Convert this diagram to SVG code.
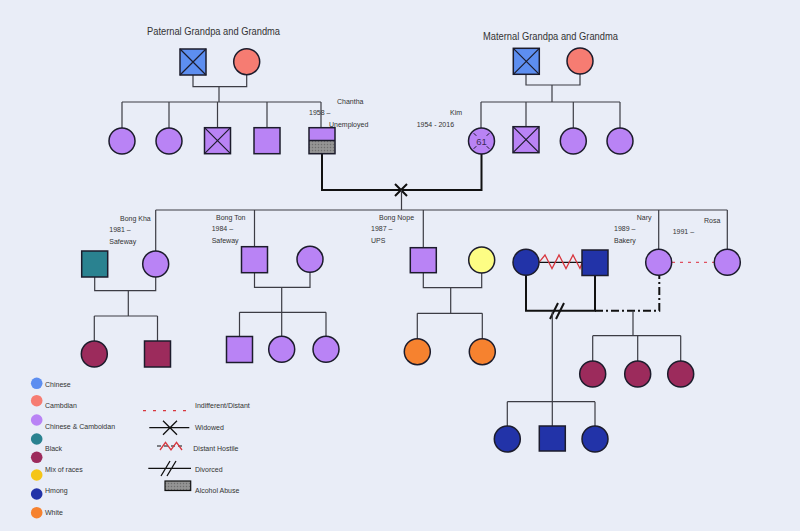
<svg xmlns="http://www.w3.org/2000/svg" width="800" height="531" viewBox="0 0 800 531">
<defs>
<style>
.bg{fill:#e9edf7}
.n{stroke:#1c1c2c;stroke-width:1.5}
.blue{fill:#5d8ef0}.salmon{fill:#f67c72}.lav{fill:#b983f5}.teal{fill:#2a8290}.maroon{fill:#9c2b5c}
.yellow{fill:#fdfd84}.hmong{fill:#2233a8}.orange{fill:#f6822f}.gold{fill:#f5c518}
.x{stroke:#1c1c2c;stroke-width:1.2}
.c{fill:none;stroke:#3c3c44;stroke-width:1.2}
.m{fill:none;stroke:#111;stroke-width:2}
.t{font-family:"Liberation Sans",Arial,sans-serif;font-size:7px;fill:#333}
.h{font-family:"Liberation Sans",Arial,sans-serif;font-size:10.5px;fill:#333}
.red{fill:none;stroke:#d8363e;stroke-width:1.3}
</style>
<pattern id="alc" width="3" height="3" patternUnits="userSpaceOnUse">
<rect width="3" height="3" fill="#8e8e8e"/>
<rect width="1" height="1" fill="#6e6e6e"/>
<rect x="1.5" y="1.5" width="1" height="1" fill="#a8a8a8"/>
</pattern>
</defs>
<rect class="bg" width="800" height="531"/>

<g id="titles">
<text class="h" x="147" y="35" textLength="133" lengthAdjust="spacingAndGlyphs">Paternal Grandpa and Grandma</text>
<text class="h" x="483" y="40" textLength="135" lengthAdjust="spacingAndGlyphs">Maternal Grandpa and Grandma</text>
</g>

<g id="connectors">
<path class="c" d="M193,75 V86.7 H246.7 V74.7 M219,86.7 V102 M122,102 H321 M122,102 V128 M169,102 V128 M217.5,102 V127.7 M267,102 V127.7 M321,102 V127.7"/>
<path class="c" d="M526,74.3 V85 H580 V74 M552,85 V102 M481,102 H620 M481,102 V128 M526,102 V126.7 M573.3,102 V128 M620,102 V128"/>
<path class="m" d="M322,153.3 V190 H481.5 V154"/>
<path class="m" d="M395,184 L407,196 M395,196 L407,184"/>
<path class="c" d="M401.5,190 V210 M155.7,210 H727.3 M155.7,210 V251 M254.5,210 V246.7 M423.3,210 V247.7 M658.7,210 V249.3 M727.3,210 V249.3"/>
<path class="c" d="M94.7,276.7 V290.7 H155.7 V277 M128.3,290.7 V316 M94.3,316 H157.5 M94.3,316 V341 M157.5,316 V341"/>
<path class="c" d="M254.5,272.3 V287.3 H310 V272.3 M281.7,287.3 V312.3 M239.5,312.3 H326 M239.5,312.3 V336.7 M281.7,312.3 V336.3 M326,312.3 V336.3"/>
<path class="c" d="M423.3,272.7 V287.7 H481.7 V273 M450.7,287.7 V313.3 M417.3,313.3 H482.3 M417.3,313.3 V338.7 M482.3,313.3 V338.7"/>
<path class="m" d="M526,275.3 V310.7 H595 V275"/>
<path class="m" d="M550,319 L558,303 M556,319 L564,303"/>
<path d="M539,262.3 H582" stroke="#111" stroke-width="1.2"/>
<polyline class="red" points="539,262.3 545,255 552,268.5 559,255 566,268.5 573,255 580,268.5 582,263"/>
<path d="M595,310.7 H659.3 V275.3" fill="none" stroke="#111" stroke-width="2" stroke-dasharray="8,3,2,3"/>
<path class="c" d="M552.3,310.7 V401.7 M507.3,401.7 H595 M507.3,401.7 V426 M552.3,401.7 V426 M595,401.7 V426"/>
<path class="c" d="M633,310.7 V335.7 M592.7,335.7 H680.7 M592.7,335.7 V361 M637.7,335.7 V361 M680.7,335.7 V361"/>
<path d="M672,262.3 H714.3" stroke="#e05060" stroke-width="1.3" stroke-dasharray="3,5"/>
</g>

<g id="paternal-grandpa"><rect class="n blue" x="180" y="49" width="26" height="26"/><path class="x" d="M180,49 L206,75 M206,49 L180,75"/></g>
<g id="paternal-grandma"><circle class="n salmon" cx="246.7" cy="61.7" r="13"/></g>
<g id="p-child-1"><circle class="n lav" cx="122" cy="141" r="13"/></g>
<g id="p-child-2"><circle class="n lav" cx="169" cy="141" r="13"/></g>
<g id="p-child-3"><rect class="n lav" x="204.5" y="127.7" width="26" height="26"/><path class="x" d="M204.5,127.7 L230.5,153.7 M230.5,127.7 L204.5,153.7"/></g>
<g id="p-child-4"><rect class="n lav" x="254" y="127.7" width="26" height="26"/></g>
<g id="chantha">
<rect x="309" y="140.5" width="26" height="13" fill="url(#alc)"/>
<rect class="lav" x="309" y="127.7" width="26" height="12.8"/>
<path d="M309,140.5 H335" stroke="#1c1c2c" stroke-width="1.5"/>
<rect class="n" fill="none" x="309" y="127.7" width="26" height="26"/>
<text class="t" x="337" y="104">Chantha</text>
<text class="t" x="309" y="115">1958 –</text>
<text class="t" x="329" y="126.5">Unemployed</text>
</g>

<g id="maternal-grandpa"><rect class="n blue" x="513.3" y="48.3" width="26" height="26"/><path class="x" d="M513.3,48.3 L539.3,74.3 M539.3,48.3 L513.3,74.3"/></g>
<g id="maternal-grandma"><circle class="n salmon" cx="580" cy="61" r="13"/></g>
<g id="kim">
<circle class="n lav" cx="481.5" cy="141" r="13"/>
<path stroke="#1c1c2c" stroke-width="1" d="M473.7,133.2 L476.3,135.8 M489.3,133.2 L486.7,135.8 M473.7,148.8 L476.3,146.2 M489.3,148.8 L486.7,146.2"/>
<text x="481.5" y="144.5" text-anchor="middle" font-family="'Liberation Sans',Arial,sans-serif" font-size="9.5" fill="#3a2a55">61</text>
<text class="t" x="450" y="115">Kim</text>
<text class="t" x="416.7" y="126.5">1954 - 2016</text>
</g>
<g id="m-child-2"><rect class="n lav" x="513" y="126.7" width="26" height="26"/><path class="x" d="M513,126.7 L539,152.7 M539,126.7 L513,152.7"/></g>
<g id="m-child-3"><circle class="n lav" cx="573.3" cy="141" r="13"/></g>
<g id="m-child-4"><circle class="n lav" cx="620" cy="141" r="13"/></g>

<g id="bong-kha-husband"><rect class="n teal" x="81.7" y="251" width="26" height="26"/></g>
<g id="bong-kha"><circle class="n lav" cx="155.7" cy="264" r="13"/>
<text class="t" x="120" y="220.5">Bong Kha</text>
<text class="t" x="109.3" y="231.5">1981 –</text>
<text class="t" x="109.3" y="244">Safeway</text></g>
<g id="kha-child-1"><circle class="n maroon" cx="94.3" cy="354" r="13"/></g>
<g id="kha-child-2"><rect class="n maroon" x="144.5" y="341" width="26" height="26"/></g>

<g id="bong-ton"><rect class="n lav" x="241.5" y="246.7" width="26" height="26"/>
<text class="t" x="216" y="220">Bong Ton</text>
<text class="t" x="211.7" y="231">1984 –</text>
<text class="t" x="211.7" y="242.5">Safeway</text></g>
<g id="bong-ton-wife"><circle class="n lav" cx="310" cy="259.3" r="13"/></g>
<g id="ton-child-1"><rect class="n lav" x="226.5" y="336.5" width="26" height="26"/></g>
<g id="ton-child-2"><circle class="n lav" cx="281.7" cy="349.3" r="13"/></g>
<g id="ton-child-3"><circle class="n lav" cx="326" cy="349.3" r="13"/></g>

<g id="bong-nope"><rect class="n lav" x="410.3" y="247.7" width="26" height="25"/>
<text class="t" x="379" y="219.5">Bong Nope</text>
<text class="t" x="371" y="231">1987 –</text>
<text class="t" x="371" y="242.5">UPS</text></g>
<g id="bong-nope-wife"><circle class="n yellow" cx="481.7" cy="260" r="13"/></g>
<g id="nope-child-1"><circle class="n orange" cx="417.3" cy="351.7" r="13"/></g>
<g id="nope-child-2"><circle class="n orange" cx="482.3" cy="351.7" r="13"/></g>

<g id="hmong-wife"><circle class="n hmong" cx="526" cy="262.3" r="13"/></g>
<g id="hmong-husband"><rect class="n hmong" x="582" y="250" width="26" height="25.5"/></g>
<g id="hmong-child-1"><circle class="n hmong" cx="507.3" cy="439" r="13"/></g>
<g id="hmong-child-2"><rect class="n hmong" x="539.3" y="426" width="26" height="25"/></g>
<g id="hmong-child-3"><circle class="n hmong" cx="595" cy="439" r="13"/></g>

<g id="nary"><circle class="n lav" cx="658.7" cy="262.3" r="13"/>
<text class="t" x="636.7" y="220">Nary</text>
<text class="t" x="614" y="231">1989 –</text>
<text class="t" x="614" y="243">Bakery</text></g>
<g id="rosa"><circle class="n lav" cx="727.3" cy="262.3" r="13"/>
<text class="t" x="704" y="222.5">Rosa</text>
<text class="t" x="672.7" y="233.5">1991 –</text></g>
<g id="nary-child-1"><circle class="n maroon" cx="592.7" cy="374" r="13"/></g>
<g id="nary-child-2"><circle class="n maroon" cx="637.7" cy="374" r="13"/></g>
<g id="nary-child-3"><circle class="n maroon" cx="680.7" cy="374" r="13"/></g>

<g id="legend-colors">
<circle class="blue" cx="36.7" cy="383.3" r="5.8"/>
<circle class="salmon" cx="36.7" cy="400.7" r="5.8"/>
<circle class="lav" cx="36.7" cy="420" r="5.8"/>
<circle class="teal" cx="36.7" cy="439" r="5.8"/>
<circle class="maroon" cx="36.7" cy="457.3" r="5.8"/>
<circle class="gold" cx="36.7" cy="475" r="5.8"/>
<circle class="hmong" cx="36.7" cy="494" r="5.8"/>
<circle class="orange" cx="36.7" cy="512.7" r="5.8"/>
<text class="t" x="45" y="386.5">Chinese</text>
<text class="t" x="45" y="407.5">Cambdian</text>
<text class="t" x="45" y="429">Chinese &amp; Camboidan</text>
<text class="t" x="45" y="450.5">Black</text>
<text class="t" x="45" y="471.5">Mix of races</text>
<text class="t" x="45" y="493">Hmong</text>
<text class="t" x="45" y="514.5">White</text>
</g>

<g id="legend-symbols">
<path d="M143,410.7 H191" stroke="#d8363e" stroke-width="1.2" stroke-dasharray="3,7"/>
<text class="t" x="195" y="408">Indifferent/Distant</text>
<path d="M149.3,427.7 H189.3 M163,420.7 L177,434.7 M163,434.7 L177,420.7" stroke="#111" stroke-width="1.3"/>
<text class="t" x="195" y="430">Widowed</text>
<path d="M157,446 H185" stroke="#111" stroke-width="1.2" stroke-dasharray="4,3"/>
<polyline class="red" points="160,450 165.5,442.3 171,450 176.5,442.3 182,450"/>
<text class="t" x="193.3" y="451">Distant Hostile</text>
<path d="M148.3,468.3 H191 M161,476 L170,461 M167,476 L176,461" stroke="#111" stroke-width="1.3"/>
<text class="t" x="195" y="472">Divorced</text>
<rect x="165" y="481" width="25.7" height="9.5" fill="url(#alc)" stroke="#111" stroke-width="1.2"/>
<text class="t" x="195" y="493">Alcohol Abuse</text>
</g>
</svg>
